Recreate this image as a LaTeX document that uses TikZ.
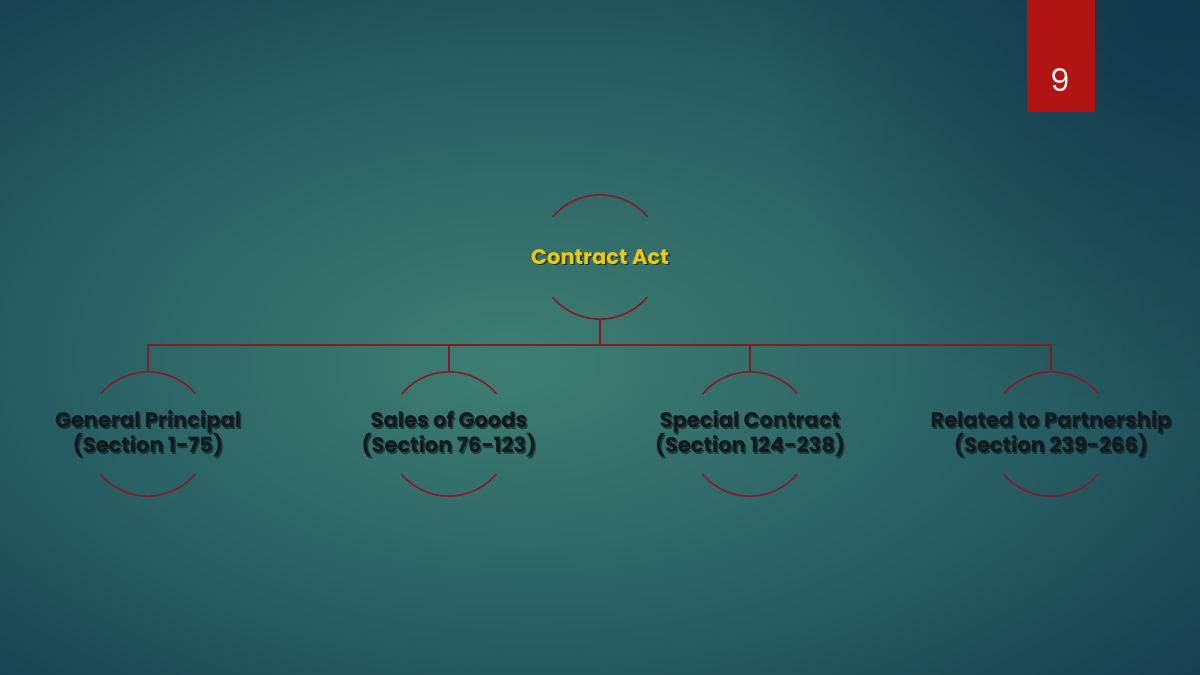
\documentclass[tikz,border=0pt]{standalone}
\usepackage{fontspec}
\setmainfont{Poppins}
\usetikzlibrary{shadings,fadings}
\definecolor{bgA}{RGB}{62,126,114}
\definecolor{bgB}{RGB}{38,92,98}
\definecolor{bgC}{RGB}{18,54,74}
\definecolor{arcred}{RGB}{135,26,34}
\definecolor{boxred}{RGB}{178,20,20}
\definecolor{titley}{RGB}{240,200,10}
\definecolor{darktxt}{RGB}{18,26,32}
\pgfdeclareradialshading{bgshade}{\pgfpoint{-4bp}{-2bp}}{color(0bp)=(bgA); color(22bp)=(bgB); color(40bp)=(bgC); color(60bp)=(bgC)}
\tikzfading[name=softspot, inner color=transparent!0, outer color=transparent!100]
\tikzset{
  hub/.style={circle, draw=none, minimum size=124pt, inner sep=0pt},
  arcline/.style={draw=arcred, line width=1.6pt},
  conn/.style={draw=arcred, line width=1.4pt},
  lbl/.style={align=center, font=\bfseries\fontsize{21}{25}\selectfont, text=darktxt},
  lblsh/.style={align=center, font=\bfseries\fontsize{21}{25}\selectfont, text=black, opacity=0.45},
  ttl/.style={font=\bfseries\fontsize{21}{24}\selectfont, text=titley},
  ttlsh/.style={font=\bfseries\fontsize{21}{24}\selectfont, text=black, opacity=0.55}
}
\newcommand{\hubarcs}[1]{%
  \draw[arcline] (#1.40) arc[start angle=40, end angle=140, radius=62pt];
  \draw[arcline] (#1.-140) arc[start angle=-140, end angle=-40, radius=62pt];}
\begin{document}
\begin{tikzpicture}[x=1pt,y=1pt]
\useasboundingbox (0,0) rectangle (1200,675);
\shade[shading=bgshade] (0,0) rectangle (1200,675);
% darker top-right corner (soft)
\begin{scope}
\clip (0,0) rectangle (1200,675);
\fill[bgC, path fading=softspot, opacity=0.7] (1150,640) circle (380);
\end{scope}
% page number box
\fill[boxred] (1027,563) rectangle (1095,675);
\node[text=white, font=\fontsize{31}{33}\selectfont] (pg) at (1060,595) {9};
% hubs
\node[hub] (top) at (600,418) {};
\node[hub] (c1) at (148,241) {};
\node[hub] (c2) at (449,241) {};
\node[hub] (c3) at (750,241) {};
\node[hub] (c4) at (1051,241) {};
\coordinate (bar) at (600,330);
\foreach \n in {top,c1,c2,c3,c4}{\hubarcs{\n}}
\foreach \n in {c1,c2,c3,c4}{
  \draw[conn] (top.south) -- (top.south |- bar) -| (\n.north);
}
% texts
\node[ttlsh] at ([shift={(1.5,-1.5)}]top.center) {Contract Act};
\node[ttl] (ttop) at (top.center) {Contract Act};
\node[lblsh] at ([shift={(1.5,-1.5)}]c1.center) {General Principal\\(Section 1-75)};
\node[lbl] (t1) at (c1.center) {General Principal\\(Section 1-75)};
\node[lblsh] at ([shift={(1.5,-1.5)}]c2.center) {Sales of Goods\\(Section 76-123)};
\node[lbl] (t2) at (c2.center) {Sales of Goods\\(Section 76-123)};
\node[lblsh] at ([shift={(1.5,-1.5)}]c3.center) {Special Contract\\(Section 124-238)};
\node[lbl] (t3) at (c3.center) {Special Contract\\(Section 124-238)};
\node[lblsh] at ([shift={(1.5,-1.5)}]c4.center) {Related to Partnership\\(Section 239-266)};
\node[lbl] (t4) at (c4.center) {Related to Partnership\\(Section 239-266)};
\end{tikzpicture}
\end{document}
